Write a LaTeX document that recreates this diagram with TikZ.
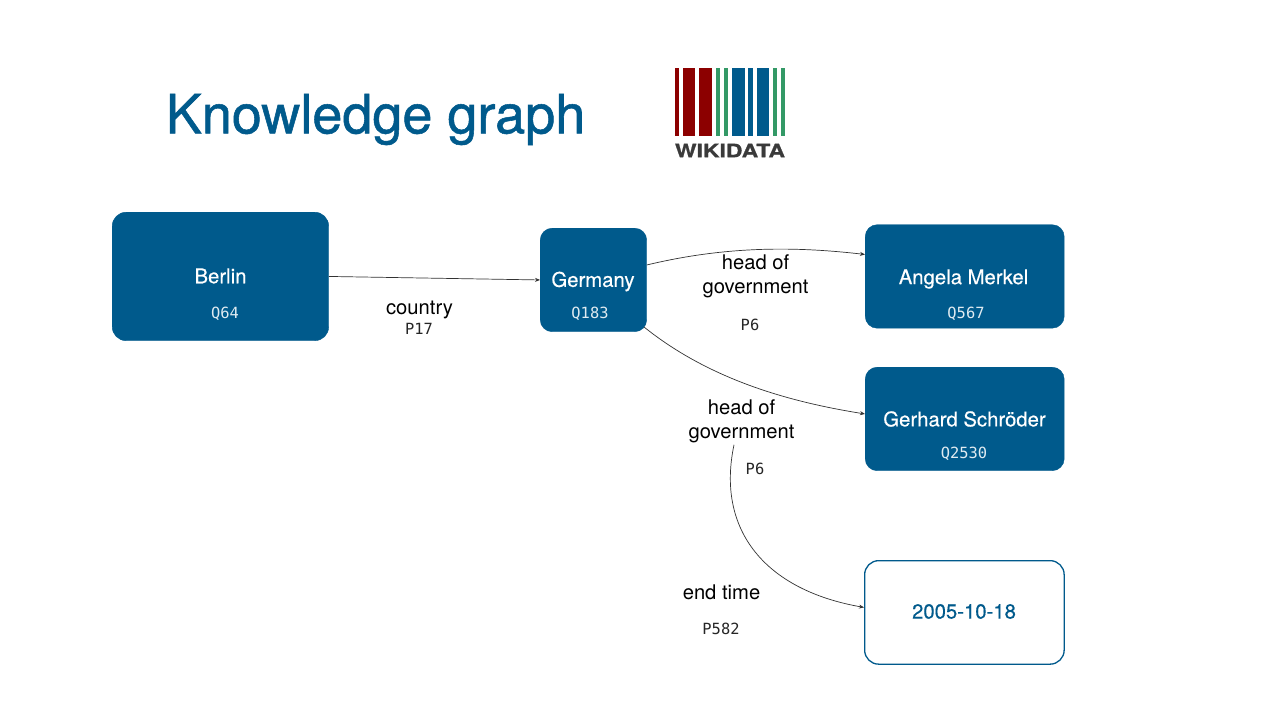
\documentclass[tikz,border=0pt]{standalone}
\usepackage{fontspec}
\setmainfont{TeX Gyre Heros}
\newfontfamily\medfont[FakeBold=0.35]{TeX Gyre Heros}
\newfontfamily\titlefont[FakeBold=1]{TeX Gyre Heros}
\newfontfamily\logofont[FakeStretch=1.24,FakeBold=1]{TeX Gyre Heros Bold}
\newfontfamily\qmono{DejaVu Sans Mono}
\usetikzlibrary{calc,arrows.meta}
\definecolor{wdblue}{HTML}{005A8C}
\definecolor{wdred}{HTML}{8C0000}
\definecolor{wdgreen}{HTML}{339966}
\definecolor{wdgray}{HTML}{3A3A3A}
\tikzset{
  box/.style={draw=wdblue,fill=wdblue,rounded corners=#1,inner sep=0pt,anchor=north west},
  box/.default=14pt,
  name text/.style={text=white,font=\medfont\fontsize{20.3}{24}\selectfont,inner sep=0pt},
  qid/.style={text=white!88!wdblue,font=\qmono\fontsize{15.4}{18}\selectfont,inner sep=0pt},
  edge label/.style={text=black,font=\fontsize{20.2}{24}\selectfont,align=center,inner sep=0pt},
  pid/.style={text=black!85,font=\qmono\fontsize{15.4}{18}\selectfont,inner sep=0pt},
  link/.style={draw=black!80,line width=0.7pt,-{Stealth[length=5pt,width=4pt]}},
  bar/.style={fill=#1,draw=none}
}
\begin{document}
\begin{tikzpicture}[x=1pt,y=-1pt]
\useasboundingbox[fill=white] (0,0) rectangle (1280,720);
\node[text=wdblue,font=\titlefont\fontsize{54}{60}\selectfont,inner sep=0pt,anchor=center] (title) at (375.5,119.5) {Knowledge graph};
% logo
\fill[bar=wdred] (675,67.5) rectangle (679.3,135.5);
\fill[bar=wdred] (683.3,67.5) rectangle (695.3,135.5);
\fill[bar=wdred] (699.3,67.5) rectangle (712,135.5);
\fill[bar=wdgreen] (716,67.5) rectangle (720,135.5);
\fill[bar=wdgreen] (724,67.5) rectangle (728,135.5);
\fill[bar=wdblue] (732,67.5) rectangle (744.7,135.5);
\fill[bar=wdblue] (748.3,67.5) rectangle (752.7,135.5);
\fill[bar=wdblue] (756.7,67.5) rectangle (769,135.5);
\fill[bar=wdgreen] (773.3,67.5) rectangle (777.3,135.5);
\fill[bar=wdgreen] (781.3,67.5) rectangle (785.3,135.5);
\node[text=wdgray,font=\logofont\fontsize{18.5}{20}\selectfont,inner sep=0pt] (wikidata) at (730,150.5) {WIKIDATA};
% boxes
\node[box=14pt,minimum width=216.5pt,minimum height=128.5pt] (berlin) at (112,212) {};
\node[box=12pt,minimum width=106.5pt,minimum height=103.5pt] (germany) at (540,228) {};
\node[box=12pt,minimum width=199pt,minimum height=103.5pt] (merkel) at (865,224.5) {};
\node[box=12pt,minimum width=199pt,minimum height=103.5pt] (schroeder) at (865,367) {};
\node[box=14pt,fill=white,line width=1.3pt,minimum width=199.5pt,minimum height=103.5pt] (date) at (864,560) {};
% box text
\node[name text] (t1) at (220.5,276) {Berlin};
\node[qid] (q1) at (225,314) {Q64};
\node[name text] (t2) at (593,281.5) {Germany};
\node[qid] (q2) at (590,314) {Q183};
\node[name text] (t3) at (963.5,279) {Angela Merkel};
\node[qid] (q3) at (966,314) {Q567};
\node[name text] (t4) at (964.5,419) {Gerhard Schröder};
\node[qid] (q4) at (964,454) {Q2530};
\node[text=wdblue,font=\medfont\fontsize{20.3}{24}\selectfont,inner sep=0pt] (t5) at (964,611.5) {2005-10-18};
% edge labels
\node[edge label] (l1) at (419.5,310) {country};
\node[pid] (p1) at (419,329) {P17};
\node[edge label] (l2) at (755.5,276) {head of\\government};
\node[pid] (p2) at (750,325) {P6};
\node[edge label] (l3) at (741.5,421) {head of\\government};
\node[pid] (p3) at (755,469) {P6};
\node[edge label] (l4) at (721.5,592) {end time};
\node[pid] (p4) at (721,629) {P582};
% connectors
\draw[link] (berlin.east) -- (germany.west);
\draw[link] ($(germany.east)+(0,-15)$) .. controls (730,245) and (800,247) .. ($(merkel.west)+(0,-22)$);
\draw[link] ($(germany.south east)+(-3,-5)$) .. controls (710,380) and (790,402) .. ($(schroeder.west)+(0,-5)$);
\draw[link] ($(l3.south)+(-7.5,2)$) .. controls (716,530) and (765,590) .. ($(date.west)+(0,-5)$);
\end{tikzpicture}
\end{document}
